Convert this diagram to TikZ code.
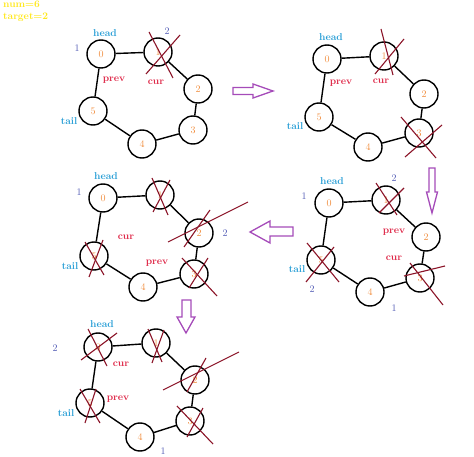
\documentclass[tikz,border=0pt]{standalone}
\usepackage{xcolor}
\usepackage{tikz}
\usetikzlibrary{calc}
\definecolor{numyellow}{RGB}{255,232,30}
\definecolor{ptrblue}{RGB}{42,159,214}
\definecolor{ptrred}{RGB}{222,40,72}
\definecolor{cntblue}{RGB}{80,90,180}
\definecolor{digorange}{RGB}{240,140,60}
\definecolor{strikered}{RGB}{139,20,40}
\definecolor{arrpurple}{RGB}{165,75,185}

\begin{document}
\begin{tikzpicture}[x=1pt,y=-1pt,
    listnode/.style={circle, draw=black, line width=1.4pt, minimum size=28pt,
                     inner sep=0pt, text=digorange, font=\normalsize},
    link/.style={line width=1.4pt, black},
    strike/.style={line width=1.1pt, strikered},
    ptrname/.style={text=ptrblue, font=\bfseries, inner sep=0pt},
    ptrcur/.style={text=ptrred, font=\bfseries, inner sep=0pt},
    cnt/.style={text=cntblue, font=\normalsize, inner sep=0pt},
    hollowarrow/.style={draw=arrpurple, line width=1.3pt, line join=miter}]
  \useasboundingbox (0,0) rectangle (474,457);
  % header text
  \node[text=numyellow, font=\bfseries, anchor=west, inner sep=0pt] (num) at (3,4) {num=6};
  \node[text=numyellow, font=\bfseries, anchor=west, inner sep=0pt] (target) at (3,17) {target=2};

  % step 1 (top left)
  \foreach \i/\px/\py in {0/101/54, 1/158/52, 2/198/89, 3/193/130, 4/142/144, 5/93/111}
    \node[listnode] (a\i) at (\px,\py) {\i};
  \foreach \i/\j in {0/1,1/2,2/3,3/4,4/5,5/0}
    \draw[link] (a\i) -- (a\j);
  \node[ptrname] (ahead) at (105,33) {head};
  \node[ptrname] (atail) at (69,121) {tail};
  \node[ptrcur] (aprev) at (114,80) {prev};
  \node[ptrcur] (acur) at (156,82) {cur};
  \node[cnt] (acnt1) at (77,48) {1};
  \node[cnt] (acnt2) at (167,31) {2};
  \draw[strike] (149,32) -- (173,78);
  \draw[strike] (180,35) -- (146,74);

  % arrow right
  \draw[hollowarrow] (233,87.5) -- (253,87.5) -- (253,84) -- (273,91)
    -- (253,98) -- (253,94.5) -- (233,94.5) -- cycle;

  % step 2 (top right)
  \foreach \i/\px/\py in {0/327/59, 1/384/56, 2/424/94, 3/419/133, 4/368/147, 5/319/117}
    \node[listnode] (b\i) at (\px,\py) {\i};
  \foreach \i/\j in {0/1,1/2,2/3,3/4,4/5,5/0}
    \draw[link] (b\i) -- (b\j);
  \node[ptrname] (bhead) at (331,37) {head};
  \node[ptrname] (btail) at (295,126) {tail};
  \node[ptrcur] (bprev) at (341,83) {prev};
  \node[ptrcur] (bcur) at (381,81) {cur};
  \draw[strike] (381,29) -- (393,75);
  \draw[strike] (404,39) -- (375,74);
  \draw[strike] (401,117) -- (436,158);
  \draw[strike] (442,125) -- (405,157);

  % arrow down
  \draw[hollowarrow] (429,168) -- (435,168) -- (435,192) -- (437.5,192) -- (432,213)
    -- (426.5,192) -- (429,192) -- cycle;

  % step 3 (middle right)
  \foreach \i/\px/\py in {0/329/203, 1/386/200, 2/426/237, 3/420/278, 4/370/292, 5/321/260}
    \node[listnode] (d\i) at (\px,\py) {\i};
  \foreach \i/\j in {0/1,1/2,2/3,3/4,4/5,5/0}
    \draw[link] (d\i) -- (d\j);
  \node[ptrname] (dhead) at (332,181) {head};
  \node[ptrname] (dtail) at (297,269) {tail};
  \node[ptrcur] (dprev) at (394,232) {prev};
  \node[ptrcur] (dcur) at (394,258) {cur};
  \node[cnt] (dcnt1) at (304,196) {1};
  \node[cnt] (dcnt2) at (394,178) {2};
  \node[cnt] (dcnt3) at (312,289) {2};
  \node[cnt] (dcnt4) at (394,308) {1};
  \draw[strike] (376,183) -- (397,215);
  \draw[strike] (404,188) -- (379,213);
  \draw[strike] (307,243) -- (339,282);
  \draw[strike] (334,247) -- (306,282);
  \draw[strike] (404,276) -- (445,266);
  \draw[strike] (410,263) -- (443,305);

  % arrow left
  \draw[hollowarrow] (293,227) -- (270,227) -- (270,221) -- (250,232)
    -- (270,243) -- (270,236) -- (293,236) -- cycle;

  % step 4 (middle left)
  \foreach \i/\px/\py in {0/103/198, 1/160/195, 2/199/233, 3/194/274, 4/143/287, 5/94/256}
    \node[listnode] (c\i) at (\px,\py) {\i};
  \foreach \i/\j in {0/1,1/2,2/3,3/4,4/5,5/0}
    \draw[link] (c\i) -- (c\j);
  \node[ptrname] (chead) at (106,176) {head};
  \node[ptrname] (ctail) at (70,266) {tail};
  \node[ptrcur] (cprev) at (157,263) {prev};
  \node[ptrcur] (ccur) at (126,237) {cur};
  \node[cnt] (ccnt1) at (79,192) {1};
  \node[cnt] (ccnt2) at (225,233) {2};
  \draw[strike] (152,178) -- (168,215);
  \draw[strike] (170,180) -- (153,212);
  \draw[strike] (168,242) -- (248,202);
  \draw[strike] (210,210) -- (184,247);
  \draw[strike] (182,258) -- (217,296);
  \draw[strike] (208,258) -- (189,288);
  \draw[strike] (85,242) -- (104,275);
  \draw[strike] (103,240) -- (89,277);

  % arrow down
  \draw[hollowarrow] (182,300) -- (191,300) -- (191,317) -- (195,317) -- (186,333)
    -- (177,317) -- (182,317) -- cycle;

  % step 5 (bottom left)
  \foreach \i/\px/\py in {0/98/347, 1/156/343, 2/195/380, 3/190/421, 4/140/437, 5/90/403}
    \node[listnode] (e\i) at (\px,\py) {\i};
  \foreach \i/\j in {0/1,1/2,2/3,3/4,4/5,5/0}
    \draw[link] (e\i) -- (e\j);
  \node[ptrname] (ehead) at (102,324) {head};
  \node[ptrname] (etail) at (66,413) {tail};
  \node[ptrcur] (eprev) at (118,399) {prev};
  \node[ptrcur] (ecur) at (121,364) {cur};
  \node[cnt] (ecnt1) at (55,348) {2};
  \node[cnt] (ecnt2) at (163,451) {1};
  \draw[strike] (88,329) -- (107,366);
  \draw[strike] (117,333) -- (81,360);
  \draw[strike] (148,329) -- (162,362);
  \draw[strike] (164,330) -- (152,363);
  \draw[strike] (163,390) -- (239,352);
  \draw[strike] (206,358) -- (187,392);
  \draw[strike] (177,406) -- (213,444);
  \draw[strike] (203,408) -- (187,437);
  \draw[strike] (80,389) -- (100,423);
  \draw[strike] (96,389) -- (85,423);
\end{tikzpicture}
\end{document}
